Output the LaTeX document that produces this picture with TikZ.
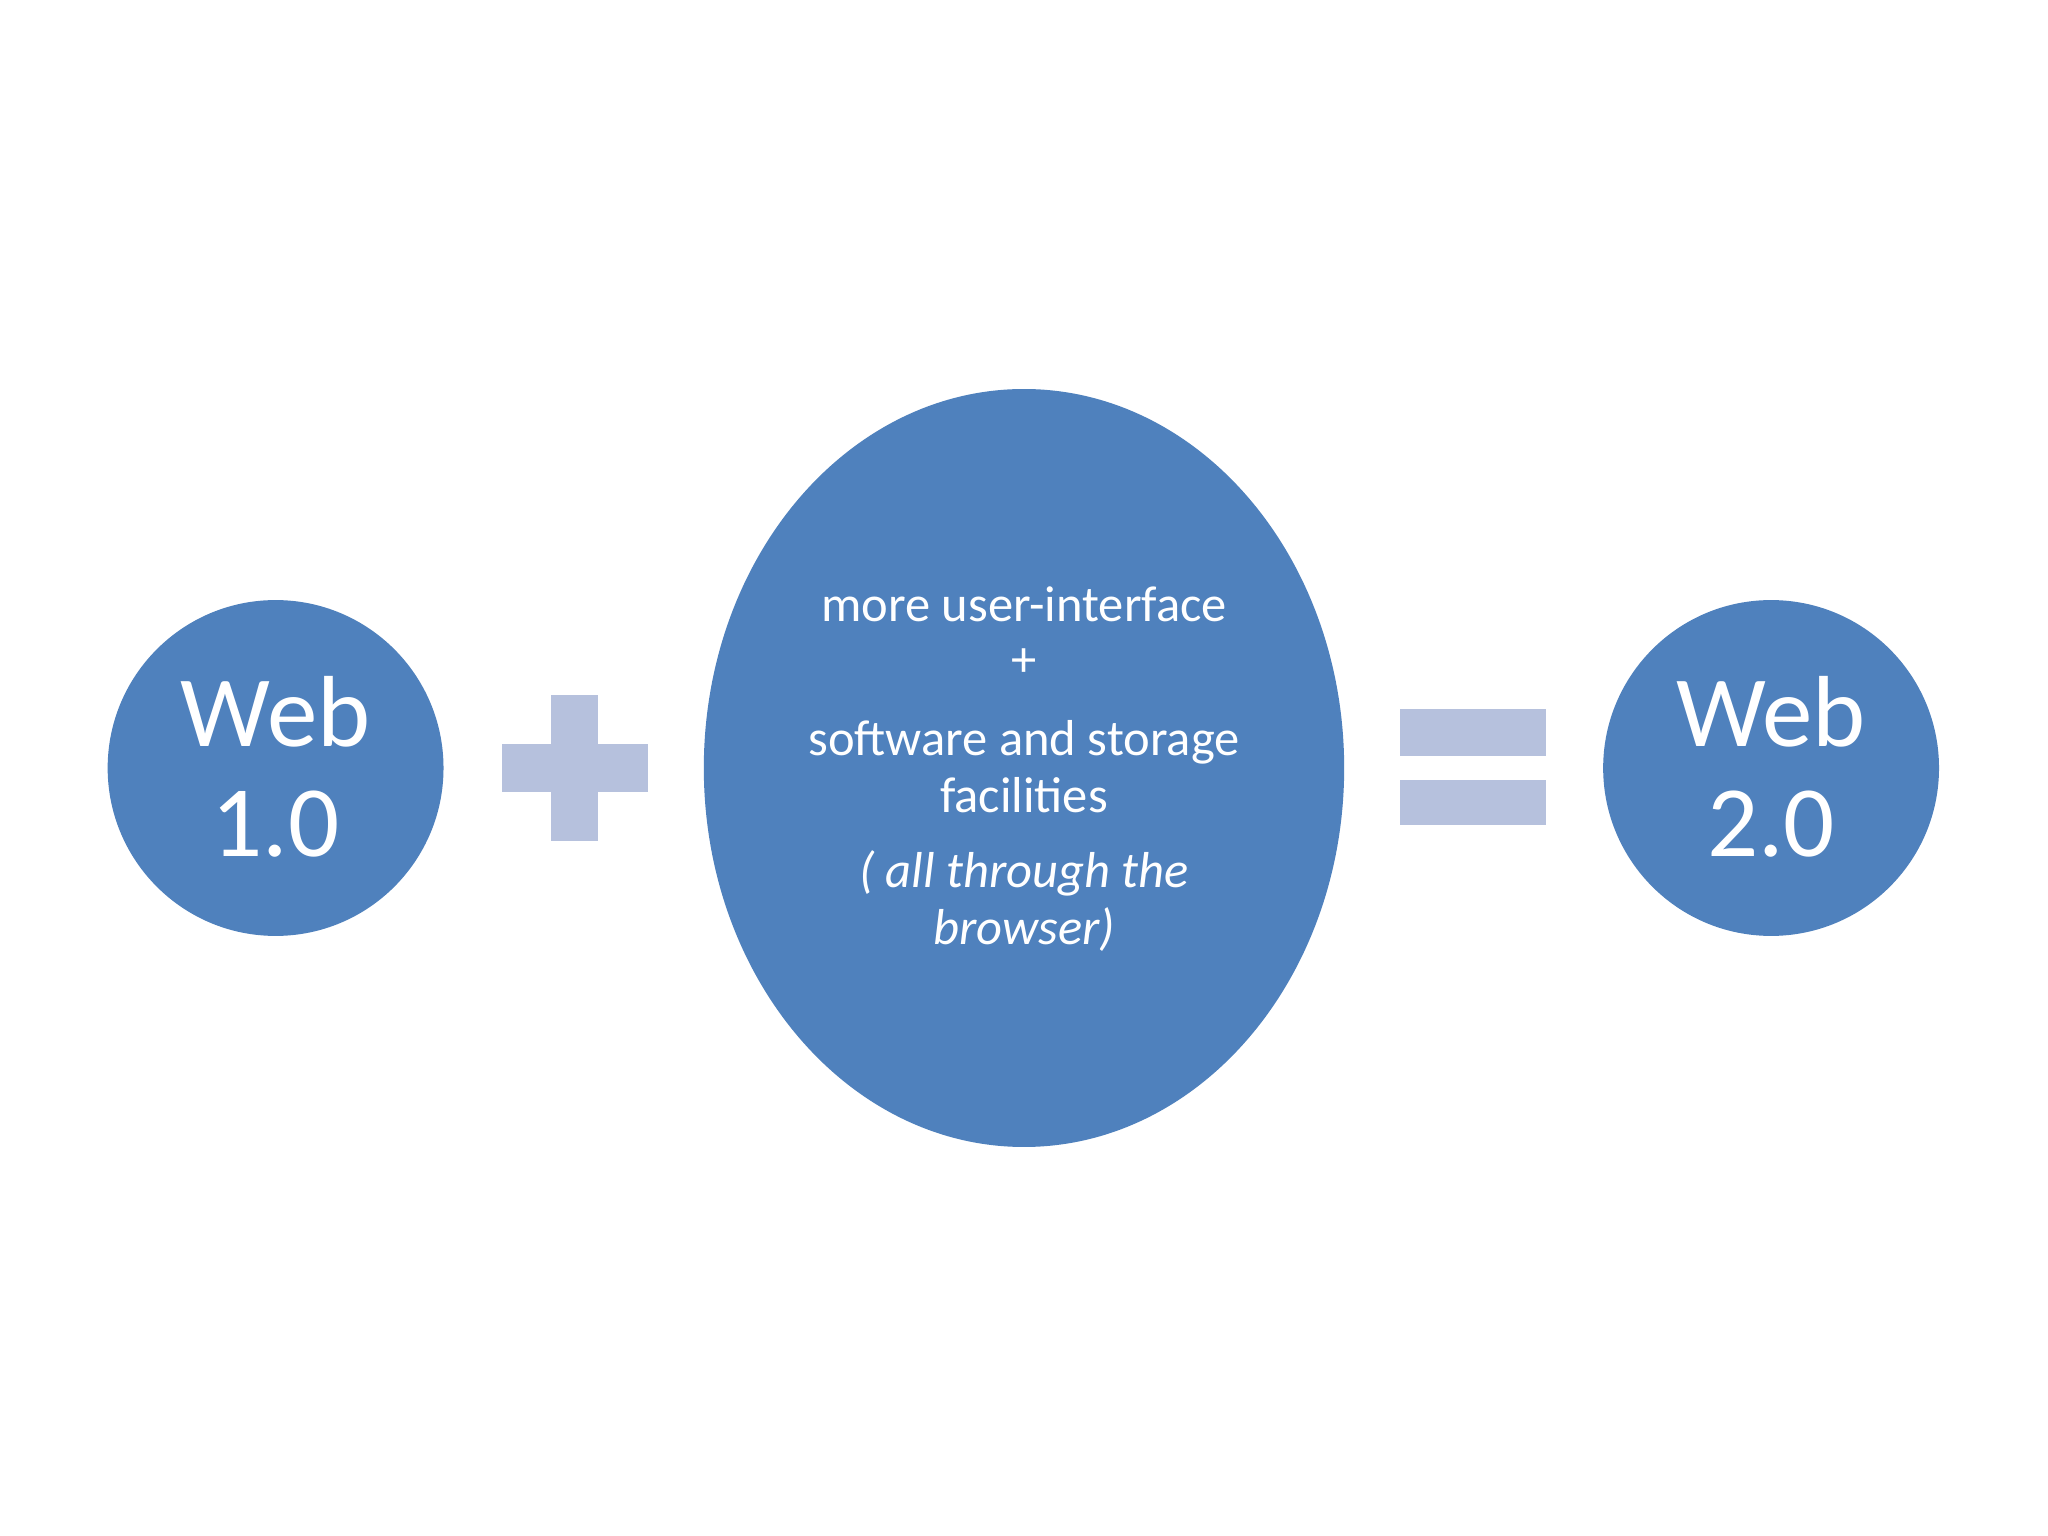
\documentclass[tikz,border=0pt]{standalone}
\usepackage{fontspec}
\setmainfont{Carlito}
\usetikzlibrary{shapes.geometric}
\begin{document}
\begin{tikzpicture}[x=0.01cm,y=-0.01cm,
  blob/.style={fill=blobc,draw=none,inner sep=0pt},
  sym/.style={fill=symc,draw=none},
  big/.style={text=white,font=\fontsize{22}{24}\selectfont,align=center},
  small/.style={text=white,font=\fontsize{11}{12.4}\selectfont,align=center}]
\definecolor{blobc}{HTML}{4F81BD}
\definecolor{symc}{HTML}{B6C1DD}
\useasboundingbox (0,0) rectangle (1568,1176);
\fill[white] (0,0) rectangle (1568,1176);
\node[blob,circle,minimum size=2.57cm] (w1) at (211,588) {};
\node[blob,circle,minimum size=2.57cm] (w2) at (1356,588) {};
\node[blob,ellipse,minimum width=4.9cm,minimum height=5.8cm] (mid) at (784,588) {};
\path[sym] (422,532) rectangle (458,644);
\path[sym] (384,570) rectangle (496,606);
\path[sym] (1072,543) rectangle (1184,579);
\path[sym] (1072,597) rectangle (1184,632);
\node[big] (t1) at (211,587) {Web\\1.0};
\node[big] (t2) at (1356,587) {Web\\2.0};
\node[small] (a) at (784,463) {more user-interface};
\node[small] (b) at (784,507) {+};
\node[small] (c) at (784,587) {software and storage\\facilities};
\node[small,font=\fontsize{11}{12.4}\selectfont\itshape] (d) at (784,690) {( all through the\\browser)};
\end{tikzpicture}
\end{document}
